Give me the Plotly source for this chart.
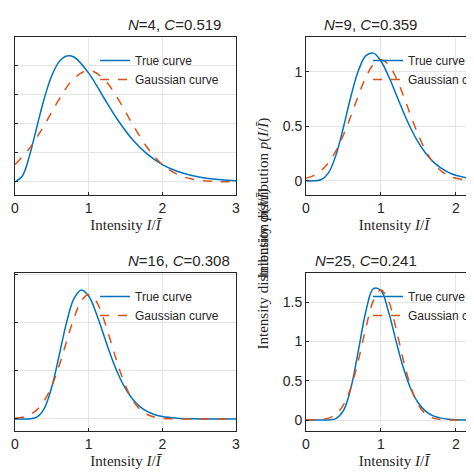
import plotly.graph_objects as go

# ---- data ----
titles = ["<i>N</i>=4, <i>C</i>=0.519", "<i>N</i>=9, <i>C</i>=0.359",
          "<i>N</i>=16, <i>C</i>=0.308", "<i>N</i>=25, <i>C</i>=0.241"]

x1 = [0, 0.1, 0.2, 0.3, 0.4, 0.5, 0.6, 0.7, 0.8, 1.0, 1.2, 1.4, 1.6, 1.8, 2.0, 2.2, 2.4, 2.6, 2.8, 3.0]
true1 = [0, 0.041, 0.187, 0.386, 0.581, 0.734, 0.830, 0.869, 0.862, 0.751, 0.586, 0.424, 0.290, 0.190,
         0.120, 0.074, 0.045, 0.026, 0.015, 0.009]
xg1 = [0, 0.2, 0.4, 0.6, 0.8, 1.0, 1.2, 1.4, 1.6, 1.8, 2.0, 2.2, 2.4, 2.6, 2.8, 3.0]
gauss1 = [0.120, 0.234, 0.394, 0.571, 0.714, 0.769, 0.714, 0.571, 0.394, 0.234, 0.120, 0.053,
          0.020, 0.007, 0.002, 0.0005]

xs = [0, 0.1, 0.2, 0.3, 0.4, 0.5, 0.6, 0.7, 0.8, 0.9, 1.0, 1.1, 1.2, 1.3, 1.4, 1.5, 1.6, 1.7,
      1.8, 1.9, 2.0, 2.2, 2.4, 2.6, 2.8, 3.0]
true2 = [0, 0.0002, 0.010, 0.073, 0.236, 0.492, 0.776, 1.012, 1.149, 1.172, 1.100, 0.964, 0.799,
         0.632, 0.480, 0.352, 0.251, 0.174, 0.118, 0.078, 0.051, 0.021, 0.008, 0.003, 0.001, 0.0003]
gauss2 = [0.023, 0.048, 0.093, 0.166, 0.275, 0.421, 0.597, 0.784, 0.951, 1.069, 1.111, 1.069, 0.951,
          0.784, 0.597, 0.421, 0.275, 0.166, 0.093, 0.048, 0.023, 0.004, 0.0004, 0, 0, 0]
true3 = [0, 0, 0.001, 0.021, 0.114, 0.335, 0.664, 1.006, 1.254, 1.344, 1.280, 1.107, 0.885, 0.662,
         0.468, 0.315, 0.203, 0.126, 0.076, 0.044, 0.025, 0.008, 0.002, 0.0005, 0.0001, 0]
gauss3 = [0.007, 0.018, 0.044, 0.098, 0.194, 0.347, 0.557, 0.806, 1.049, 1.229, 1.295, 1.229, 1.049,
          0.806, 0.557, 0.347, 0.194, 0.098, 0.044, 0.018, 0.007, 0.0006, 0, 0, 0, 0]
true4 = [0, 0, 0, 0.001, 0.018, 0.118, 0.408, 0.887, 1.384, 1.670, 1.649, 1.383, 1.013, 0.664,
         0.395, 0.216, 0.110, 0.052, 0.024, 0.010, 0.004, 0.0006, 0.0001, 0, 0, 0]
gauss4 = [0.0003, 0.0016, 0.007, 0.024, 0.075, 0.192, 0.418, 0.763, 1.173, 1.519, 1.655, 1.519, 1.173,
          0.763, 0.418, 0.192, 0.075, 0.024, 0.007, 0.0016, 0.0003, 0, 0, 0, 0, 0]

BLUE, ORANGE = "#0072BD", "#D95319"
W = 474.0
def px(v): return v / W

panels = [
    dict(xt=x1, yt=true1, xg=xg1, yg=gauss1, xd=[7, 228], yd=[29, 187], xr=[0, 3], yr=[-0.09, 1.0], dt=0.2, left=True),
    dict(xt=xs, yt=true2, xg=xs, yg=gauss2, xd=[298, 474], yd=[29, 187], xr=[0, 2.35], yr=[-0.13, 1.32], dt=0.5, left=False),
    dict(xt=xs, yt=true3, xg=xs, yg=gauss3, xd=[7, 228], yd=[265, 423], xr=[0, 3], yr=[-0.125, 1.52], dt=0.5, left=True),
    dict(xt=xs, yt=true4, xg=xs, yg=gauss4, xd=[298, 474], yd=[265, 423], xr=[0, 2.35], yr=[-0.14, 1.87], dt=0.5, left=False),
]

fig = go.Figure()
layout = dict(width=474, height=474, margin=dict(l=0, r=0, t=0, b=0, autoexpand=False),
              paper_bgcolor="white", plot_bgcolor="white", showlegend=True,
              annotations=[])
tickfont = dict(family="Liberation Sans, Arial", size=14, color="#262626")
serif = dict(family="Liberation Serif, Times New Roman", size=15, color="#262626")

for i, p in enumerate(panels):
    n = i + 1
    xa = "x" if n == 1 else f"x{n}"
    ya = "y" if n == 1 else f"y{n}"
    lg = "legend" if n == 1 else f"legend{n}"
    fig.add_trace(go.Scatter(x=p["xt"], y=p["yt"], mode="lines", name="True curve",
                             line=dict(color=BLUE, width=1.5, shape="spline"),
                             xaxis=xa, yaxis=ya, legend=lg))
    fig.add_trace(go.Scatter(x=p["xg"], y=p["yg"], mode="lines", name="Gaussian curve",
                             line=dict(color=ORANGE, width=1.5, dash="dash", shape="spline"),
                             xaxis=xa, yaxis=ya, legend=lg))
    xd = [px(p["xd"][0]), px(p["xd"][1])]
    yd = [1 - px(p["yd"][1]), 1 - px(p["yd"][0])]
    layout[f"xaxis{'' if n == 1 else n}"] = dict(
        domain=xd, range=p["xr"], anchor=ya, dtick=1, tick0=0,
        showgrid=True, gridcolor="#e5e5e5", zeroline=False,
        showline=True, mirror=True, linecolor="#262626", linewidth=1,
        ticks="inside", ticklen=3, tickcolor="#262626", tickfont=tickfont,
        title=dict(text="Intensity <i>I</i>/<i>Ī</i>", font=serif, standoff=4))
    layout[f"yaxis{'' if n == 1 else n}"] = dict(
        domain=yd, range=p["yr"], anchor=xa, dtick=p["dt"], tick0=0,
        showgrid=True, gridcolor="#e5e5e5", zeroline=False,
        showline=True, mirror=p["left"], linecolor="#262626", linewidth=1,
        ticks="inside", ticklen=3, tickcolor="#262626", tickfont=tickfont,
        showticklabels=not p["left"])
    lx = p["xd"][0] + 80 if p["left"] else 360
    layout[lg] = dict(x=px(lx), y=1 - px(p["yd"][0] + 9), xanchor="left", yanchor="top",
                      bgcolor="rgba(0,0,0,0)", font=dict(family="Liberation Sans, Arial", size=12, color="#262626"),
                      tracegroupgap=0, itemwidth=30)
    layout["annotations"].append(dict(text=titles[i], x=(xd[0] + xd[1]) / 2 if p["left"] else px(298 + 75 * 1.5),
                                      y=yd[1], yanchor="bottom", xref="paper", yref="paper", showarrow=False,
                                      yshift=2, font=dict(family="Liberation Sans, Arial", size=15, color="#262626")))
    if not p["left"]:
        layout["annotations"].append(dict(text="Intensity distribution <i>p</i>(<i>I</i>/<i>Ī</i>)",
                                          x=px(255), y=(yd[0] + yd[1]) / 2, xref="paper", yref="paper",
                                          textangle=-90, showarrow=False, font=serif))

fig.update_layout(**layout)
fig.write_html("out.html")
